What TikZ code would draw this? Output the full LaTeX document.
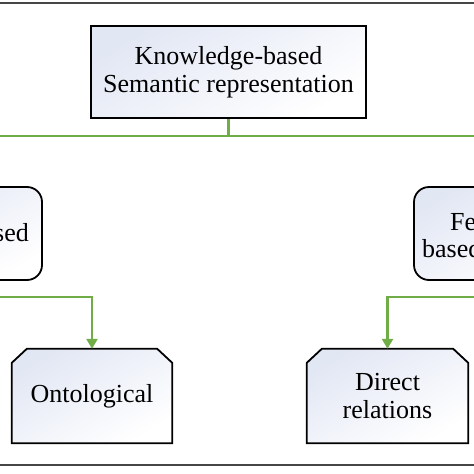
\documentclass[tikz,border=0pt]{standalone}
\usepackage{fontspec}
\setmainfont{Liberation Serif}
\usetikzlibrary{arrows.meta}
\definecolor{gline}{RGB}{112,173,71}
\definecolor{boxtop}{RGB}{226,231,244}
\definecolor{rule}{RGB}{70,70,70}
\tikzset{
  lbl/.style={font=\fontsize{26pt}{28pt}\selectfont, align=center, inner sep=0pt},
  boxshade/.style={draw=black, line width=1.8pt, top color=boxtop, bottom color=white, shading angle=30},
  conn/.style={draw=gline, line width=2.4pt},
  arr/.style={conn, -{Triangle[width=11pt,length=10pt]}},
  rulebar/.style={draw=rule, line width=1.8pt}
}
\begin{document}
\begin{tikzpicture}[x=1pt,y=-1pt]
\useasboundingbox (0,0) rectangle (474,474);
\clip (0,0) rectangle (474,474);
\fill[white] (0,0) rectangle (474,474);
% rules
\coordinate (rtl) at (-5,3); \coordinate (rtr) at (480,3);
\coordinate (rbl) at (-5,465); \coordinate (rbr) at (480,465);
\draw[rulebar] (rtl) -- (rtr);
\draw[rulebar] (rbl) -- (rbr);
% top box
\node[boxshade, rectangle, minimum width=275pt, minimum height=92pt, lbl] (top) at (228.5,72) {Knowledge-based\\Semantic representation};
% side rounded boxes
\node[boxshade, rectangle, rounded corners=15pt, minimum width=162pt, minimum height=93pt] (lbox) at (-39,233.5) {};
\node[lbl, anchor=east] (ltxt) at (29,233) {sed};
\node[boxshade, rectangle, rounded corners=15pt, minimum width=162pt, minimum height=93pt] (rbox) at (495,233.5) {};
\node[lbl, anchor=base west] (rtxt1) at (450,230) {Feature};
\node[lbl, anchor=base west] (rtxt2) at (422,257) {based};
% chamfered boxes
\node[rectangle, minimum width=160pt, minimum height=94pt, inner sep=0pt] (onto) at (92,396) {};
\path[boxshade] (onto.south west) -- ([yshift=-14pt]onto.north west) -- ([xshift=15pt]onto.north west) -- ([xshift=-15pt]onto.north east) -- ([yshift=-14pt]onto.north east) -- (onto.south east) -- cycle;
\node[lbl] (ontotxt) at (onto.center) {Ontological};
\node[rectangle, minimum width=161pt, minimum height=94pt, inner sep=0pt] (direct) at (387.5,396) {};
\path[boxshade] (direct.south west) -- ([yshift=-14pt]direct.north west) -- ([xshift=15pt]direct.north west) -- ([xshift=-15pt]direct.north east) -- ([yshift=-14pt]direct.north east) -- (direct.south east) -- cycle;
\node[lbl] (directtxt) at (direct.center) {Direct\\relations};
% connectors
\coordinate (hl) at (-5,136); \coordinate (hr) at (480,136);
\coordinate (hmid) at (228.5,136);
\draw[conn] (hl) -- (hr);
\draw[conn] (top.south) -- (hmid);
\coordinate (lstart) at (-5,297);
\coordinate (rstart) at (480,297);
\draw[arr] (lstart) -| (onto.north);
\draw[arr] (rstart) -| (direct.north);
\end{tikzpicture}
\end{document}
